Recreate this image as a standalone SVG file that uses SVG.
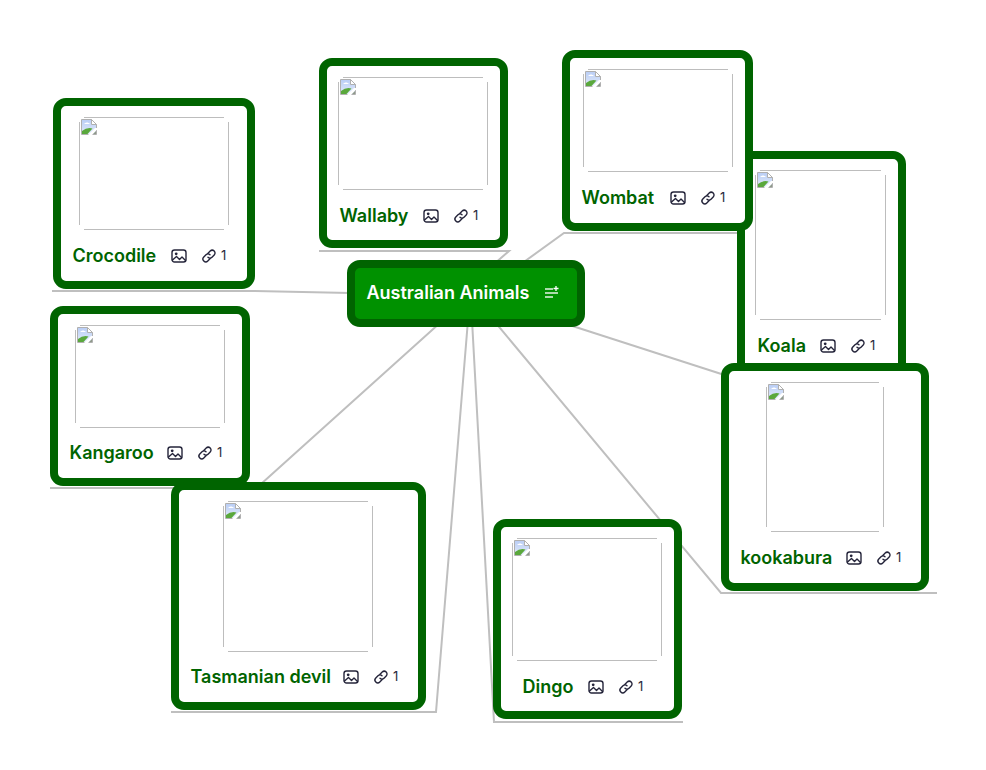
<svg xmlns="http://www.w3.org/2000/svg" width="986" height="770" viewBox="0 0 986 770">
<style>
.card{fill:#fff;stroke:#006400;stroke-width:8}
.frame{fill:none;stroke:#bdbdbd;stroke-width:1}
.title{font-family:"Inter","Liberation Sans",sans-serif;font-size:18px;font-weight:600;fill:#006400}
.num{font-family:"Inter","Liberation Sans",sans-serif;font-size:13px;fill:#2a2a3c}
.ico{fill:none;stroke:#24243a;stroke-width:1.4;stroke-linecap:round;stroke-linejoin:round}
.conn{fill:none;stroke:#bfbfbf;stroke-width:2}
</style>
<defs>
<linearGradient id="sky" x1="0" y1="0" x2="0" y2="1"><stop offset="0" stop-color="#b9cdf5"/><stop offset="1" stop-color="#e3ecfb"/></linearGradient>
<symbol id="broken" width="16" height="16" viewBox="0 0 16 16" overflow="visible">
<path d="M0.500 0.500H10.500L15.500 5.500V15.500H0.500Z" fill="url(#sky)" stroke="#b0b0b0"/>
<path d="M10.500 0.500V5.500H15.500Z" fill="#fff" stroke="#b0b0b0"/>
<path d="M3 5q1.500-2 3.500-1.500t2.500 1.500Z" fill="#fff"/>
<path d="M1 15V12Q6 8 11.500 9.500L6.500 15Z" fill="#5aa83c"/>
<path d="M7 16 14 9H16V10.500L11 16Z" fill="#fff"/>
<path d="M12 15L15 12V15Z" fill="#8f9a8a"/>
</symbol>
<symbol id="imgic" width="16" height="16" viewBox="0 0 16 16" overflow="visible">
<rect class="ico" x="1" y="2" width="14" height="12" rx="2.500"/>
<circle cx="5.200" cy="5.800" r="1.400" fill="#24243a"/>
<path class="ico" d="M1.500 12 5.500 8.500 8.500 11.500 11 9 14.500 12.500"/>
</symbol>
<symbol id="linkic" width="16" height="16" viewBox="0 0 16 16" overflow="visible">
<path class="ico" d="M6.800 5.500 9.200 3.100a2.800 2.800 0 0 1 4 4L11 9.300a2.800 2.800 0 0 1-4 0"/>
<path class="ico" d="M9.200 10.500 6.800 12.900a2.800 2.800 0 0 1-4-4L5 6.700a2.800 2.800 0 0 1 4 0"/>
</symbol>
</defs>
<rect width="986" height="770" fill="#fff"/>
<g id="connectors">
<path class="conn" d="M52 291H255L350 293"/>
<path class="conn" d="M319 251H509L470 285"/>
<path class="conn" d="M753 233H564L510 272"/>
<path class="conn" d="M560 322 740 380"/>
<path class="conn" d="M50 488H250M256 488.500L441 322"/>
<path class="conn" d="M171 712H436L468 320"/>
<path class="conn" d="M683 722H494L472 320"/>
<path class="conn" d="M937 593H721L495 322"/>
</g>
<g id="node-crocodile">
<rect class="card" x="57" y="102" width="194" height="183" rx="9"/>
<path class="frame" d="M84 117.500H224M84 229.500H224M79.500 122V225M228.500 122V225"/>
<use href="#broken" x="81" y="119"/>
<text class="title" x="72.500" y="262">Crocodile</text>
<use href="#imgic" x="171" y="248"/><use href="#linkic" x="201" y="248"/>
<text class="num" x="221" y="260">1</text>
</g>
<g id="node-wallaby">
<rect class="card" x="323" y="62" width="181" height="182" rx="9"/>
<path class="frame" d="M343 77.500H483M343 189.500H483M338.500 82V185M487.500 82V185"/>
<use href="#broken" x="340" y="79"/>
<text class="title" x="339.500" y="222">Wallaby</text>
<use href="#imgic" x="423" y="208"/><use href="#linkic" x="453" y="208"/>
<text class="num" x="473" y="220">1</text>
</g>
<g id="node-koala">
<rect class="card" x="741" y="155" width="161" height="224" rx="9"/>
<path class="frame" d="M760 170.500H881M760 319.500H881M755.500 175V315M885.500 175V315"/>
<use href="#broken" x="757" y="172"/>
<text class="title" x="757.500" y="352">Koala</text>
<use href="#imgic" x="820" y="338"/><use href="#linkic" x="850" y="338"/>
<text class="num" x="870" y="350">1</text>
</g>
<g id="node-wombat">
<rect class="card" x="566" y="54" width="183" height="173" rx="9"/>
<path class="frame" d="M588 69.500H728M588 171.500H728M583.500 74V167M732.500 74V167"/>
<use href="#broken" x="585" y="71"/>
<text class="title" x="581.500" y="204">Wombat</text>
<use href="#imgic" x="670" y="190"/><use href="#linkic" x="700" y="190"/>
<text class="num" x="720" y="202">1</text>
</g>
<g id="node-kookabura">
<rect class="card" x="725" y="367" width="200" height="220" rx="9"/>
<path class="frame" d="M771 382.500H879M771 531.500H879M766.500 387V527M883.500 387V527"/>
<use href="#broken" x="768" y="384"/>
<text class="title" x="740.500" y="564">kookabura</text>
<use href="#imgic" x="846" y="550"/><use href="#linkic" x="876" y="550"/>
<text class="num" x="896" y="562">1</text>
</g>
<g id="node-kangaroo">
<rect class="card" x="54" y="310" width="192" height="172" rx="9"/>
<path class="frame" d="M80 325.500H220M80 427.500H220M75.500 330V423M224.500 330V423"/>
<use href="#broken" x="77" y="327"/>
<text class="title" x="69.500" y="459">Kangaroo</text>
<use href="#imgic" x="167" y="445"/><use href="#linkic" x="197" y="445"/>
<text class="num" x="217" y="457">1</text>
</g>
<g id="node-tasmanian-devil">
<rect class="card" x="175" y="486" width="247" height="220" rx="9"/>
<path class="frame" d="M228 501.500H368M228 651.500H368M223.500 506V647M372.500 506V647"/>
<use href="#broken" x="225" y="503"/>
<text class="title" x="190.500" y="683">Tasmanian devil</text>
<use href="#imgic" x="343" y="669"/><use href="#linkic" x="373" y="669"/>
<text class="num" x="393" y="681">1</text>
</g>
<g id="node-dingo">
<rect class="card" x="497" y="523" width="181" height="192" rx="9"/>
<path class="frame" d="M517 538.500H657M517 660.500H657M512.500 543V656M661.500 543V656"/>
<use href="#broken" x="514" y="540"/>
<text class="title" x="522.500" y="693">Dingo</text>
<use href="#imgic" x="588" y="679"/><use href="#linkic" x="618" y="679"/>
<text class="num" x="638" y="691">1</text>
</g>
<g id="node-australian-animals">
<rect x="351" y="264" width="230" height="59" rx="9" fill="#009100" stroke="#006400" stroke-width="8"/>
<text x="366.500" y="299" style="font-family:'Inter','Liberation Sans',sans-serif;font-size:18px;font-weight:600;fill:#fff">Australian Animals</text>
<path d="M545 289H553M545 293H558M545 297H553" fill="none" stroke="#e4f4e4" stroke-width="1.600"/>
<path d="M553.500 288.500H558.500M556 286V291" fill="none" stroke="#fff" stroke-width="1.300"/>
</g>
</svg>
